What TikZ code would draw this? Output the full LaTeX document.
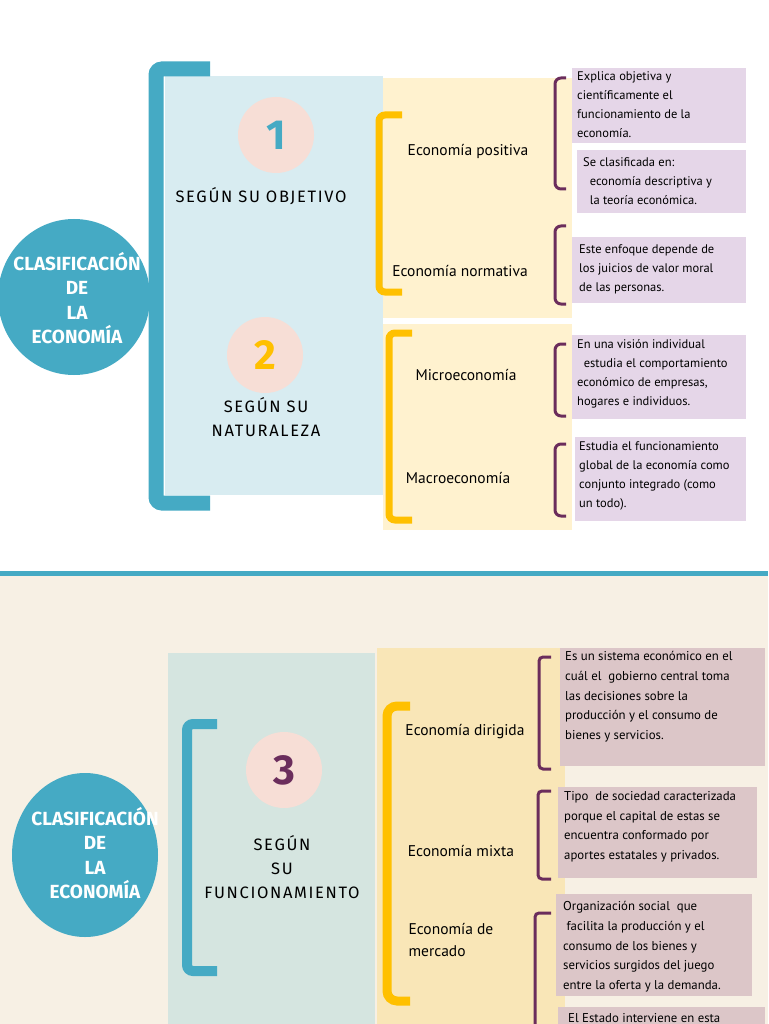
\documentclass[tikz,border=0pt]{standalone}
\usepackage{fontspec}
\usetikzlibrary{shapes.geometric}
\setmainfont{PT Sans}
\newfontfamily\headf[LetterSpace=10]{Fira Sans}
\newfontfamily\boldf{Fira Sans}
\definecolor{teal1}{HTML}{45AAC4}
\definecolor{lblue}{HTML}{D8ECF1}
\definecolor{cream}{HTML}{FFF2CF}
\definecolor{cream2}{HTML}{F9E6B7}
\definecolor{bgc}{HTML}{F7F0E4}
\definecolor{ltl}{HTML}{D5E5E0}
\definecolor{ylw}{HTML}{FFC000}
\definecolor{purp}{HTML}{6B2D5C}
\definecolor{lpur}{HTML}{E5D6E8}
\definecolor{pink}{HTML}{DCC6C8}
\definecolor{peach}{HTML}{F7DED6}
\tikzset{
 br/.style={line width=#1, rounded corners=6pt},
 txt/.style={font=\fontsize{12.5}{19}\selectfont, align=left, anchor=north west, inner sep=0pt},
 lab/.style={font=\fontsize{15.5}{16}\selectfont},
 head/.style={font=\headf\fontsize{16.5}{24}\selectfont, align=center},
 big/.style={font=\boldf\bfseries\fontsize{19}{24.5}\selectfont, text=white, align=center},
 num/.style={circle, fill=peach, minimum size=76pt, font=\boldf\bfseries\fontsize{42}{42}\selectfont}
}
\begin{document}
\begin{tikzpicture}[x=1pt,y=-1pt]
\useasboundingbox (0,0) rectangle (768,1024);
\fill[white] (0,0) rectangle (768,573);
\fill[bgc] (0,573) rectangle (768,1024);
\draw[teal1, line width=5pt] (0,573) -- (768,573);
% top
\fill[lblue] (165,76) rectangle (383,495);
\fill[cream] (383,78) rectangle (572,318);
\fill[cream] (383,324) rectangle (572,530);
\draw[teal1, br=15pt] (210,69) -- (156,69) -- (156,503) -- (210,503);
\node[ellipse, fill=teal1, minimum width=152pt, minimum height=156pt] (c1) at (74,297) {};
\node[big] (t1) at (77,298) {CLASIFICACIÓN\\DE\\LA\\ECONOMÍA};
\node[num, text=teal1] (n1) at (276,135) {1};
\node[head] (h1) at (261,196) {SEGÚN SU OBJETIVO};
\node[num, text=ylw] (n2) at (265,355) {2};
\node[head] (h2) at (266,417) {SEGÚN SU\\NATURALEZA};
\draw[ylw, br=7pt] (402,115) -- (379,115) -- (379,292) -- (402,292);
\draw[ylw, br=7pt] (412,333) -- (389,333) -- (389,520) -- (412,520);
\node[lab] (l1) at (468,151) {Economía positiva};
\node[lab] (l2) at (460,271) {Economía normativa};
\node[lab] (l3) at (466,375) {Microeconomía};
\node[lab] (l4) at (458,478) {Macroeconomía};
\draw[purp, br=3pt] (566,78) -- (555,78) -- (555,189) -- (566,189);
\draw[purp, br=3pt] (566,226) -- (555,226) -- (555,304) -- (566,304);
\draw[purp, br=3pt] (566,344) -- (555,344) -- (555,416) -- (566,416);
\draw[purp, br=3pt] (566,444) -- (555,444) -- (555,516) -- (566,516);
\fill[lpur] (572,68) rectangle (746,143);
\fill[lpur] (577,150) rectangle (746,213);
\fill[lpur] (572,237) rectangle (746,303);
\fill[lpur] (572,335) rectangle (746,419);
\fill[lpur] (575,437) rectangle (746,521);
\node[txt] (d1) at (577,71) {Explica objetiva y\\científicamente el\\funcionamiento de la\\economía.};
\node[txt] (d2) at (583,157) {Se clasificada en:\\\ \ economía descriptiva y\\\ \ la teoría económica.};
\node[txt] (d3) at (579,244) {Este enfoque depende de\\los juicios de valor moral\\de las personas.};
\node[txt] (d4) at (577,339) {En una visión individual\\\ \ estudia el comportamiento\\económico de empresas,\\hogares e individuos.};
\node[txt] (d5) at (579,441) {Estudia el funcionamiento\\global de la economía como\\conjunto integrado (como\\un todo).};
% bottom
\fill[ltl] (168,653) rectangle (375,1024);
\fill[cream2] (377,648) rectangle (565,1024);
\draw[teal1, br=10pt] (217,724) -- (187,724) -- (187,971) -- (217,971);
\node[ellipse, fill=teal1, minimum width=146pt, minimum height=164pt] (c2) at (85,855) {};
\node[big] (t2) at (95,853) {CLASIFICACIÓN\\DE\\LA\\ECONOMÍA};
\node[num, text=purp] (n3) at (284,770) {3};
\node[head] (h3) at (282,867) {SEGÚN\\SU\\FUNCIONAMIENTO};
\draw[ylw, line width=9pt, rounded corners=10pt] (410,706) -- (387,706) -- (387,1001) -- (410,1001);
\node[lab] (l5) at (465,732) {Economía dirigida};
\node[lab] (l6) at (461,851) {Economía mixta};
\node[lab, align=left, anchor=west, font=\fontsize{15.5}{22}\selectfont] (l7) at (405,940) {Economía de\\mercado};
\draw[purp, line width=3pt, rounded corners=4pt] (551,657) -- (539,657) -- (539,769) -- (551,769);
\draw[purp, line width=3pt, rounded corners=4pt] (551,791) -- (538,791) -- (538,879) -- (551,879);
\draw[purp, line width=3pt, rounded corners=4pt] (551,913) -- (535,913) -- (535,1030);
\fill[pink] (560,648) rectangle (765,766);
\fill[pink] (558,787) rectangle (757,878);
\fill[pink] (556,894) rectangle (752,996);
\fill[pink] (558,1007) rectangle (765,1024);
\node[txt, font=\fontsize{12.8}{19.8}\selectfont] (d6) at (565,651) {Es un sistema económico en el\\cuál el\ \ gobierno central toma\\las decisiones sobre la\\producción y el consumo de\\bienes y servicios.};
\node[txt, font=\fontsize{12.8}{19.8}\selectfont] (d7) at (564,791) {Tipo\ \ de sociedad caracterizada\\porque el capital de estas se\\encuentra conformado por\\aportes estatales y privados.};
\node[txt, font=\fontsize{12.8}{19.8}\selectfont] (d8) at (563,901) {Organización social\ \ que\\\ facilita la producción y el\\consumo de los bienes y\\servicios surgidos del juego\\entre la oferta y la demanda.};
\node[txt, font=\fontsize{12.8}{19.8}\selectfont] (d9) at (568,1013) {El Estado interviene en esta};
\end{tikzpicture}
\end{document}
